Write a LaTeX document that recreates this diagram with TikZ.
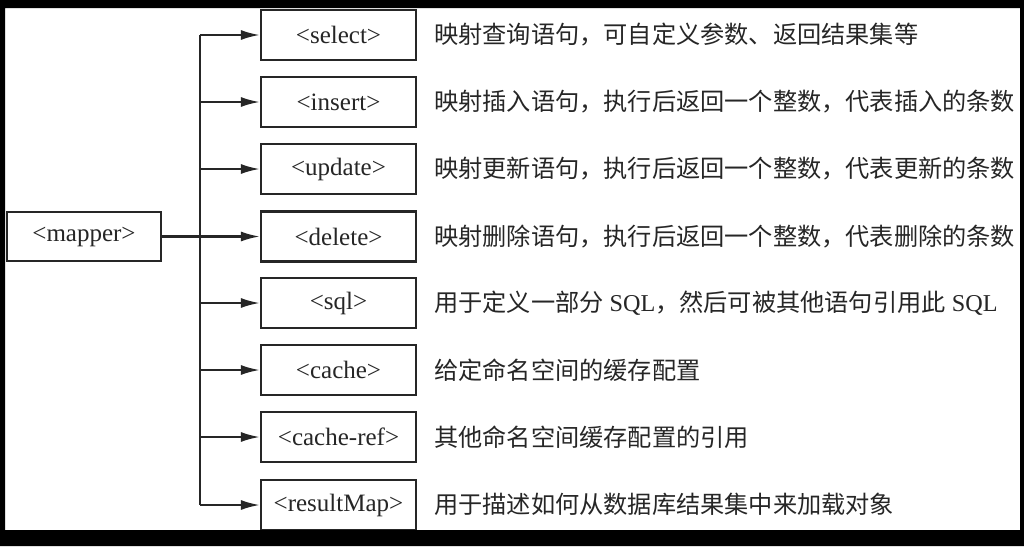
\documentclass[tikz,border=0pt]{standalone}
\usepackage{fontspec}
\setmainfont{Liberation Serif}
\newfontfamily\cjk{Noto Sans CJK SC}
\usetikzlibrary{arrows.meta}
\begin{document}
\begin{tikzpicture}[x=1pt,y=-1pt,
  tagbox/.style={draw=black!85, line width=2.2pt, minimum width=155pt, minimum height=50pt, inner sep=0pt, font=\fontsize{25}{28}\selectfont, text=black!85},
  desc/.style={anchor=west, inner sep=0pt, font=\fontsize{24.2}{28}\selectfont, text=black!85},
  conn/.style={line width=2.2pt, draw=black!85},
  arr/.style={conn, -{Latex[length=19pt,width=10pt]}}]
\useasboundingbox (0,0) rectangle (1024,546);
\fill[white] (0,0) rectangle (1024,546);
% mapper
\node[tagbox, minimum width=154pt, minimum height=49pt] (mapper) at (84,236.5) {<mapper>};
% children
\node[tagbox] (select) at (338.5,35) {<select>};
\node[tagbox] (insert) at (338.5,102) {<insert>};
\node[tagbox] (update) at (338.5,169) {<update>};
\node[tagbox] (delete) at (338.5,236.5) {<delete>};
\node[tagbox] (sql) at (338.5,303) {<sql>};
\node[tagbox] (cache) at (338.5,370) {<cache>};
\node[tagbox] (cacheref) at (338.5,437) {<cache-ref>};
\node[tagbox] (resultmap) at (338.5,505) {<resultMap>};
% trunk
\coordinate (tx) at (200,0);
\draw[conn] (tx |- select.west) -- (tx |- resultmap.west);
\draw[arr] (mapper.east) -- (delete.west);
\foreach \n in {select,insert,update,sql,cache,cacheref,resultmap}
  \draw[arr] (tx |- \n.west) -- (\n.west);
% descriptions
\node[desc] (dselect) at (434,35) {\cjk 映射查询语句，可自定义参数、返回结果集等};
\node[desc] (dinsert) at (434,102) {\cjk 映射插入语句，执行后返回一个整数，代表插入的条数};
\node[desc] (dupdate) at (434,169) {\cjk 映射更新语句，执行后返回一个整数，代表更新的条数};
\node[desc] (ddelete) at (434,236.5) {\cjk 映射删除语句，执行后返回一个整数，代表删除的条数};
\node[desc] (dsql) at (434,303) {{\cjk 用于定义一部分} SQL{\cjk ，然后可被其他语句引用此} SQL};
\node[desc] (dcache) at (434,370) {\cjk 给定命名空间的缓存配置};
\node[desc] (dcacheref) at (434,437) {\cjk 其他命名空间缓存配置的引用};
\node[desc] (dresultmap) at (434,504) {\cjk 用于描述如何从数据库结果集中来加载对象};
% black frame
\fill[black, even odd rule] (0,0) rectangle (1024,546) (5,8) rectangle (1020,530);
\end{tikzpicture}
\end{document}
